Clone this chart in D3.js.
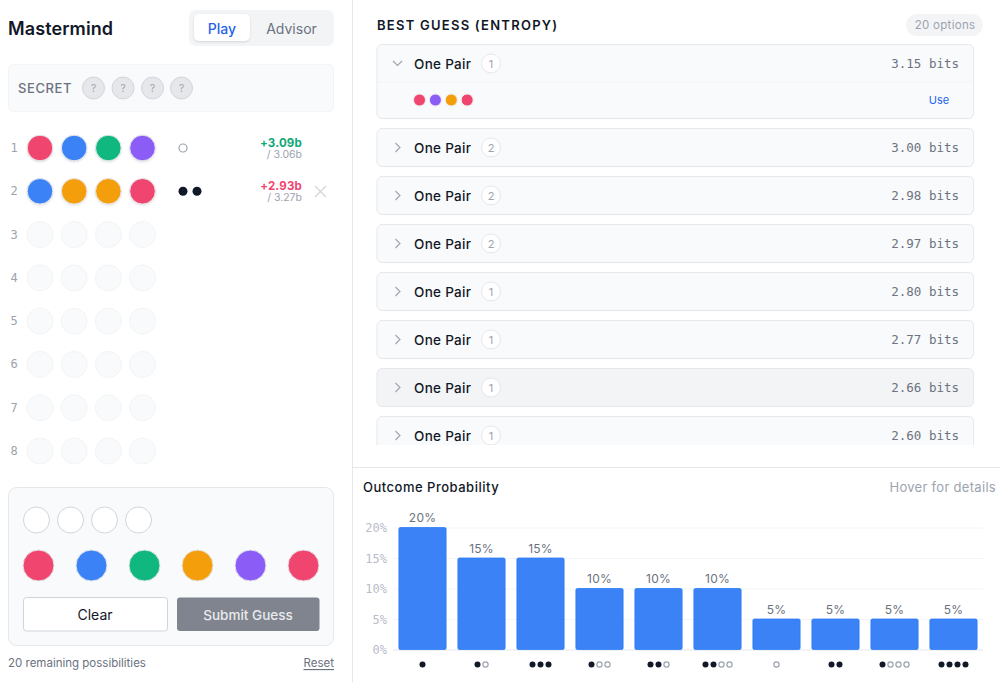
<!DOCTYPE html>
<html>
<head>
<meta charset="utf-8">
<script src="https://cdn.jsdelivr.net/npm/d3@7"></script>
<style>
  html, body { margin: 0; padding: 0; background: #fff; }
  svg { display: block; font-family: Inter, "Noto Sans", sans-serif; }
  text { dominant-baseline: central; }
  .mono { font-family: "DejaVu Sans Mono", monospace; }
</style>
</head>
<body>
<svg id="app" width="1000" height="682"></svg>
<script>
// colours of the pegs
const pink = '#f0456f', blue = '#3b82f6', green = '#10b77f', orange = '#f59e0b', purple = '#8b5cf6';
const palette = [pink, blue, green, orange, purple, pink];

// guesses played so far
const guesses = [[pink, blue, green, purple], [blue, orange, orange, pink]];
const feedbacks = ['○', '●●'];
const gains = ['+3.09b', '+2.93b'];
const expected = ['/ 3.06b', '/ 3.27b'];
const gainColors = ['#10a877', '#f0456f'];
const rowNumbers = [1, 2, 3, 4, 5, 6, 7, 8];

// best guess list
const optionNames = ['One Pair', 'One Pair', 'One Pair', 'One Pair', 'One Pair', 'One Pair', 'One Pair', 'One Pair'];
const optionCounts = [1, 2, 2, 2, 1, 1, 1, 1];
const optionBits = [3.15, 3.00, 2.98, 2.97, 2.80, 2.77, 2.66, 2.60];
const bestGuess = [pink, purple, orange, pink];
const hoveredOption = 6;

// outcome chart
const outcomes = ['●', '●○', '●●●', '●○○', '●●○', '●●○○', '○', '●●', '●○○○', '●●●●'];
const probabilities = [20, 15, 15, 10, 10, 10, 5, 5, 5, 5];
const probTicks = [0, 5, 10, 15, 20];

const ink = '#111827', gray = '#6b7280', light = '#9ca3af';
const svg = d3.select('#app');

function label(parent, x, y, str, size, color, weight, anchor) {
  return parent.append('text')
    .attr('x', x).attr('y', y)
    .attr('font-size', size)
    .attr('fill', color)
    .attr('font-weight', weight || 400)
    .attr('text-anchor', anchor || 'start')
    .text(str);
}

function box(parent, x, y, w, h, r, fill, stroke) {
  return parent.append('rect')
    .attr('x', x).attr('y', y).attr('width', w).attr('height', h).attr('rx', r)
    .attr('fill', fill).attr('stroke', stroke || 'none');
}

function peg(parent, x, y, r, fill, stroke) {
  return parent.append('circle')
    .attr('cx', x).attr('cy', y).attr('r', r)
    .attr('fill', fill).attr('stroke', stroke || '#e5e7eb').attr('stroke-width', 1);
}

// small black/white feedback dots, left aligned on x
function feedbackDots(parent, str, x, y, r, gap) {
  const marks = Array.from(str);
  parent.append('g').selectAll('circle')
    .data(marks)
    .join('circle')
    .attr('cx', (d, i) => x + i * gap)
    .attr('cy', y)
    .attr('r', (d) => (d === '●' ? r : r - 0.4))
    .attr('fill', (d) => (d === '●' ? ink : '#fff'))
    .attr('stroke', (d) => (d === '●' ? ink : light))
    .attr('stroke-width', (d) => (d === '●' ? 0 : 1.2));
}

// panel borders
svg.append('line').attr('x1', 352.5).attr('x2', 352.5).attr('y1', 0).attr('y2', 682).attr('stroke', '#e5e7eb');
svg.append('line').attr('x1', 353).attr('x2', 1000).attr('y1', 467.5).attr('y2', 467.5).attr('stroke', '#e5e7eb');

// ---- left side ----
const left = svg.append('g');
label(left, 8, 28, 'Mastermind', 18, ink, 600).attr('letter-spacing', 0.1);
box(left, 189, 10, 145, 36, 7, '#f3f4f6');
box(left, 194, 14, 56, 27, 5, '#fff').style('filter', 'drop-shadow(0 1px 1px rgba(0,0,0,.12))');
label(left, 222, 28, 'Play', 14, '#2563eb', 500, 'middle');
label(left, 291.5, 28, 'Advisor', 14, gray, 400, 'middle');

box(left, 8.5, 64.5, 325, 47, 5, '#f9fafb', '#f3f4f6');
label(left, 18, 88, 'SECRET', 13, gray, 500).attr('letter-spacing', 0.6);
[93.5, 123, 152.5, 181.5].forEach((x) => {
  peg(left, x, 88, 11, '#e5e7eb', '#d1d5db');
  label(left, x, 88, '?', 10, light, 400, 'middle');
});

const rowY = d3.scalePoint().domain(rowNumbers).range([148, 451]);
const pegX = d3.scalePoint().domain([0, 1, 2, 3]).range([40, 142.5]);

rowNumbers.forEach((n, i) => {
  const y = rowY(n);
  label(left, 14, y, n, 12, light, 400, 'middle').attr('class', 'mono');
  pegX.domain().forEach((p) => {
    if (guesses[i]) {
      peg(left, pegX(p), y, 12.8, guesses[i][p], '#e5e7eb')
        .style('filter', 'drop-shadow(0 1px 1px rgba(0,0,0,.12))');
    } else {
      peg(left, pegX(p), y, 13, '#f9fafb', '#f3f4f6');
    }
  });
  if (guesses[i]) {
    feedbackDots(left, feedbacks[i], 183, y, feedbacks[i] === '○' ? 4.4 : 4.5, 14);
    label(left, 302, y - 5.5, gains[i], 11.5, gainColors[i], 700, 'end').attr('letter-spacing', 0.2);
    label(left, 302, y + 6.5, expected[i], 10.5, light, 400, 'end');
  }
});

// remove button of the last guess
const xMark = left.append('g').attr('stroke', '#d1d5db').attr('stroke-width', 1.2);
xMark.append('line').attr('x1', 315).attr('x2', 326).attr('y1', 186).attr('y2', 197);
xMark.append('line').attr('x1', 326).attr('x2', 315).attr('y1', 186).attr('y2', 197);

// input panel
box(left, 8.5, 487.5, 325, 158, 8, '#f9fafb', '#e5e7eb');
const slotX = d3.scalePoint().domain([0, 1, 2, 3]).range([36.5, 138.5]);
slotX.domain().forEach((p) => {
  peg(left, slotX(p), 520, 13, '#fff', '#d1d5db');
});
const paletteX = d3.scalePoint().domain(d3.range(palette.length)).range([38.5, 303.5]);
palette.forEach((c, i) => {
  peg(left, paletteX(i), 565.5, 15.5, c, '#e5e7eb');
});
box(left, 23.5, 597.5, 144, 33.5, 3, '#fff', '#d1d5db');
label(left, 95, 614.5, 'Clear', 14, ink, 400, 'middle');
box(left, 177, 597.5, 142.5, 33.5, 3, '#7f848e');
label(left, 248, 614.5, 'Submit Guess', 13.5, '#e9eaec', 500, 'middle');

label(left, 8, 663, '20 remaining possibilities', 11.5, gray);
label(left, 334, 663, 'Reset', 11.5, gray, 400, 'end').attr('text-decoration', 'underline');

// ---- best guess list ----
const right = svg.append('g');
label(right, 377, 25, 'BEST GUESS (ENTROPY)', 13, ink, 600).attr('letter-spacing', 1.25);
box(right, 906, 14, 77, 22, 11, '#f3f4f6');
label(right, 945, 25, '20 options', 11.5, light, 400, 'middle').attr('letter-spacing', 0.3);

svg.append('defs').append('clipPath').attr('id', 'list-clip')
  .append('rect').attr('x', 360).attr('y', 40).attr('width', 640).attr('height', 405);
const list = right.append('g').attr('clip-path', 'url(#list-clip)');

const cardX = 377, cardW = 596.5;
optionBits.forEach((bits, i) => {
  const open = i === 0;
  const top = i === 0 ? 44.5 : 128.5 + (i - 1) * 48;
  const h = open ? 74 : 38;
  const mid = top + 19;
  box(list, cardX, top, cardW, h, 5, i === hoveredOption ? '#f3f4f6' : '#f9fafb', '#e5e7eb');

  const path = open
    ? `M393 ${mid - 2.5}L397.5 ${mid + 2}L402 ${mid - 2.5}`
    : `M395.5 ${mid - 4.5}L400 ${mid}L395.5 ${mid + 4.5}`;
  list.append('path').attr('d', path).attr('fill', 'none').attr('stroke', light).attr('stroke-width', 1.1);

  label(list, 414, mid, optionNames[i], 13.5, ink, 500).attr('letter-spacing', 0.3);
  peg(list, 491, mid, 9.5, '#fff', '#e5e7eb');
  label(list, 491, mid, optionCounts[i], 11, light, 400, 'middle');
  label(list, 959, mid, `${bits.toFixed(2)} bits`, 12.5, gray, 400, 'end').attr('class', 'mono');

  if (open) {
    list.append('line').attr('x1', cardX).attr('x2', cardX + cardW)
      .attr('y1', top + 37.5).attr('y2', top + 37.5).attr('stroke', '#f3f4f6');
    bestGuess.forEach((c, k) => {
      peg(list, 419.5 + k * 15.9, top + 55.5, 6, c, '#eceef1');
    });
    label(list, 939, top + 55.5, 'Use', 11, '#2563eb', 400, 'middle');
  }
});

// ---- outcome chart ----
label(svg, 363, 487, 'Outcome Probability', 13, ink, 500).attr('letter-spacing', 0.5);
label(svg, 996, 487, 'Hover for details', 13, light, 400, 'end').attr('letter-spacing', 0.3);

const x = d3.scaleBand().domain(d3.range(outcomes.length)).range([393, 983]).paddingInner(0.2).paddingOuter(0.1);
const y = d3.scaleLinear().domain([0, 20]).range([649.5, 527.5]);

const axis = svg.append('g')
  .attr('transform', 'translate(393,0)')
  .call(d3.axisLeft(y).tickValues(probTicks).tickFormat((d) => `${d}%`).tickSize(-590).tickPadding(6));
axis.select('.domain').remove();
axis.selectAll('.tick line').attr('stroke', (d) => (d === 0 ? '#e5e7eb' : '#f3f4f6'));
axis.selectAll('.tick text')
  .attr('class', 'mono')
  .attr('dy', 0)
  .attr('font-size', 12)
  .attr('fill', '#b9bdc9');

svg.append('g').selectAll('rect')
  .data(probabilities)
  .join('rect')
  .attr('x', (d, i) => x(i))
  .attr('y', (d) => y(d))
  .attr('width', x.bandwidth())
  .attr('height', (d) => y(0) - y(d))
  .attr('rx', 1.5)
  .attr('fill', blue)
  .attr('stroke', '#2b7cf6')
  .attr('stroke-width', 0.8);

svg.append('g').selectAll('text')
  .data(probabilities)
  .join('text')
  .attr('x', (d, i) => x(i) + x.bandwidth() / 2)
  .attr('y', (d) => y(d) - 10)
  .attr('text-anchor', 'middle')
  .attr('font-size', 12)
  .attr('letter-spacing', 0.2)
  .attr('fill', gray)
  .text((d) => `${d}%`);

outcomes.forEach((o, i) => {
  const gap = 8;
  const n = Array.from(o).length;
  const start = x(i) + x.bandwidth() / 2 - ((n - 1) * gap) / 2;
  feedbackDots(svg, o, start, 664.5, 3, gap);
});
</script>
</body>
</html>
